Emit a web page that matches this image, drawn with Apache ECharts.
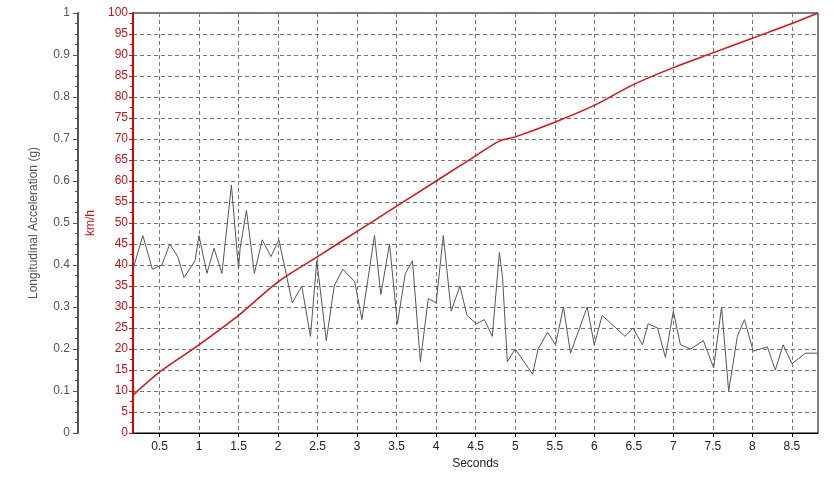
<!DOCTYPE html>
<html>
<head>
<meta charset="utf-8">
<script src="https://cdn.jsdelivr.net/npm/echarts@6/dist/echarts.min.js"></script>
<style>html,body{margin:0;padding:0;background:#fff}#chart{width:834px;height:480px}</style>
</head>
<body>
<div id="chart"></div>
<script>
// time (s) and longitudinal acceleration (g)
const accelTime = [0.165, 0.29, 0.41, 0.53, 0.63, 0.73, 0.81, 0.95, 1.0, 1.1, 1.19, 1.29, 1.41, 1.5, 1.52, 1.6, 1.7, 1.8, 1.91, 2.01,
  2.18, 2.3, 2.41, 2.49, 2.61, 2.71, 2.82, 2.97, 3.06, 3.22, 3.3, 3.41, 3.51, 3.61, 3.7, 3.8, 3.9, 4.0, 4.09, 4.19,
  4.3, 4.39, 4.51, 4.61, 4.71, 4.8, 4.84, 4.9, 5.0, 5.22, 5.29, 5.41, 5.51, 5.61, 5.7, 5.91, 6.0, 6.1, 6.39, 6.49,
  6.61, 6.68, 6.8, 6.9, 7.0, 7.09, 7.22, 7.38, 7.51, 7.61, 7.7, 7.81, 7.9, 8.01, 8.19, 8.29, 8.39, 8.5, 8.67, 8.82];
const accelG = [0.39, 0.47, 0.39, 0.40, 0.45, 0.42, 0.37, 0.41, 0.47, 0.38, 0.44, 0.38, 0.59, 0.39, 0.44, 0.53, 0.38, 0.46, 0.42, 0.46,
  0.31, 0.35, 0.23, 0.41, 0.22, 0.35, 0.39, 0.36, 0.27, 0.47, 0.33, 0.45, 0.26, 0.38, 0.41, 0.17, 0.32, 0.31, 0.47, 0.29,
  0.35, 0.28, 0.26, 0.27, 0.23, 0.43, 0.37, 0.17, 0.20, 0.14, 0.20, 0.24, 0.21, 0.30, 0.19, 0.30, 0.21, 0.28, 0.23, 0.25,
  0.21, 0.26, 0.25, 0.18, 0.29, 0.21, 0.20, 0.22, 0.155, 0.30, 0.10, 0.23, 0.27, 0.195, 0.205, 0.15, 0.21, 0.165, 0.19, 0.19];
// time (s) and speed (km/h)
const speedTime = [0.165, 0.5, 1.0, 1.5, 2.0, 2.5, 3.0, 3.5, 4.0, 4.5, 4.8, 5.0, 5.5, 6.0, 6.5, 7.0, 7.5, 8.0, 8.5, 8.83];
const speedKmh = [9, 14.5, 21, 28, 36, 42, 48, 54, 60, 66, 69.5, 70.5, 74, 78, 83, 87, 90.5, 94, 97.5, 100];
const xTicks = [0.5, 1, 1.5, 2, 2.5, 3, 3.5, 4, 4.5, 5, 5.5, 6, 6.5, 7, 7.5, 8, 8.5];

const chart = echarts.init(document.getElementById('chart'));
const font = 'Arial, "Liberation Sans", sans-serif';
const dash = { show: true, lineStyle: { color: '#777', type: [4, 3], width: 1 } };

chart.setOption({
  animation: false,
  grid: { left: 133, right: 16, top: 13, bottom: 47, show: true, borderColor: '#000', borderWidth: 1 },
  xAxis: {
    type: 'value', min: 0.165, max: 8.83,
    name: 'Seconds', nameLocation: 'middle', nameGap: 25,
    nameTextStyle: { color: '#222', fontSize: 12, fontFamily: font },
    axisLine: { show: true, lineStyle: { color: '#000' } },
    axisTick: { show: true, customValues: xTicks, length: 4, lineStyle: { color: '#000' } },
    axisLabel: { customValues: xTicks, color: '#222', fontSize: 12, fontFamily: font, margin: 8 },
    splitLine: dash
  },
  yAxis: [
    {
      type: 'value', min: 0, max: 100, interval: 5, position: 'left',
      name: 'km/h', nameLocation: 'middle', nameGap: 13, nameRotate: 90,
      nameTextStyle: { color: '#d01010', fontSize: 12, fontFamily: font },
      axisLine: { show: true, lineStyle: { color: '#e00000', width: 2 } },
      axisTick: { show: true, length: 4, lineStyle: { color: '#e00000' } },
      minorTick: { show: true, splitNumber: 2, length: 3, lineStyle: { color: '#e00000' } },
      axisLabel: { color: '#d01010', fontSize: 12, fontFamily: font, margin: 5 },
      splitLine: dash
    },
    {
      type: 'value', min: 0, max: 1, interval: 0.1, position: 'left', offset: 55,
      name: 'Longitudinal Acceleration (g)', nameLocation: 'middle', nameGap: 38, nameRotate: 90,
      nameTextStyle: { color: '#555', fontSize: 12, fontFamily: font },
      axisLine: { show: true, lineStyle: { color: '#555', width: 2 } },
      axisTick: { show: true, length: 5, lineStyle: { color: '#555' } },
      minorTick: { show: true, splitNumber: 4, length: 3, lineStyle: { color: '#555' } },
      axisLabel: { color: '#555', fontSize: 12, fontFamily: font, margin: 8 },
      splitLine: { show: false }
    }
  ],
  series: [
    {
      type: 'line', yAxisIndex: 1, symbol: 'none',
      lineStyle: { color: '#555', width: 1 },
      data: accelTime.map((t, i) => [t, accelG[i]])
    },
    {
      type: 'line', yAxisIndex: 0, symbol: 'none', smooth: 0.3,
      lineStyle: { color: '#e01010', width: 1.5 },
      data: speedTime.map((t, i) => [t, speedKmh[i]])
    }
  ]
});
</script>
</body>
</html>
